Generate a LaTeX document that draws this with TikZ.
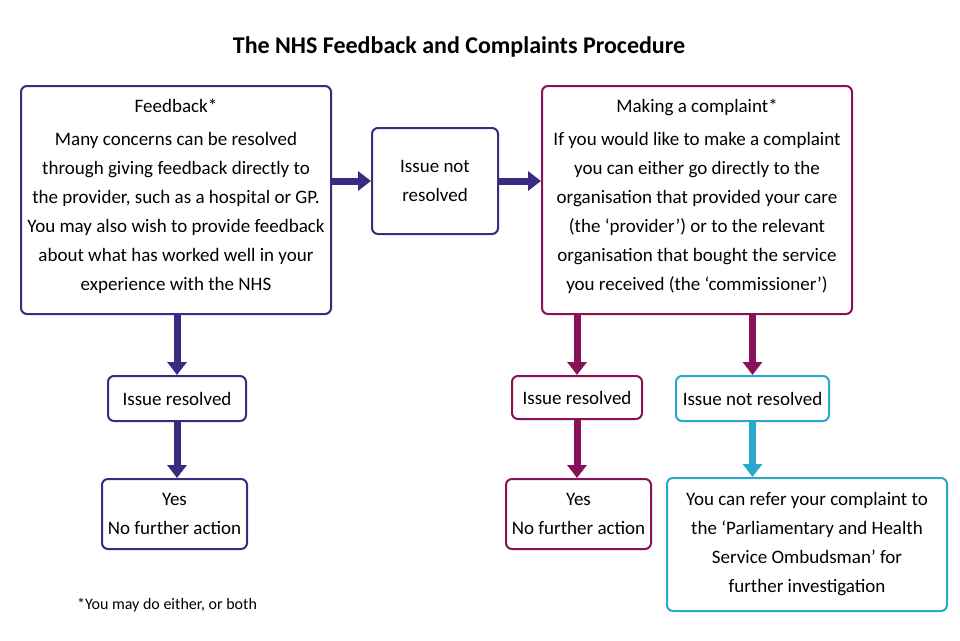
\documentclass[tikz,border=0pt]{standalone}
\usepackage{fontspec}
\setmainfont{Carlito}
\usetikzlibrary{arrows.meta,positioning}
\definecolor{nhspurple}{HTML}{3B2A80}
\definecolor{nhsmagenta}{HTML}{8A1057}
\definecolor{nhscyan}{HTML}{2AA7CD}
\tikzset{
  box/.style={draw=#1, line width=2pt, rounded corners=6pt, align=center, font=\fontsize{19}{29}\selectfont, inner sep=0pt, anchor=north west},
  arr/.style={draw=#1, line width=7pt, -{Triangle[width=19pt,length=13pt]}},
}
\begin{document}
\begin{tikzpicture}[x=1pt,y=-1pt]
\useasboundingbox (0,0) rectangle (960,640);
\node[font=\bfseries\fontsize{24}{28}\selectfont] (title) at (459,47) {The NHS Feedback and Complaints Procedure};
% left column
\node[box=nhspurple, minimum width=310pt, minimum height=228pt] (fb) at (20,85) {};
\node[align=center, font=\fontsize{19}{29}\selectfont, anchor=north] (fbt) at ([yshift=-10pt]fb.north) {Feedback*\\[4pt]Many concerns can be resolved\\through giving feedback directly to\\the provider, such as a hospital or GP.\\You may also wish to provide feedback\\about what has worked well in your\\experience with the NHS};
\node[box=nhspurple, minimum width=126pt, minimum height=106pt] (nr1) at (371,127) {Issue not\\resolved};
\node[box=nhspurple, minimum width=138pt, minimum height=45pt] (res1) at (107,375) {Issue resolved};
\node[box=nhspurple, minimum width=145pt, minimum height=70pt] (yes1) at (101,478) {Yes\\No further action};
% right column
\node[box=nhsmagenta, minimum width=310pt, minimum height=228pt] (cp) at (541,85) {};
\node[align=center, font=\fontsize{19}{29}\selectfont, anchor=north] (cpt) at ([yshift=-10pt]cp.north) {Making a complaint*\\[4pt]If you would like to make a complaint\\you can either go directly to the\\organisation that provided your care\\(the ‘provider’) or to the relevant\\organisation that bought the service\\you received (the ‘commissioner’)};
\node[box=nhsmagenta, minimum width=130pt, minimum height=43pt] (res2) at (511,375) {Issue resolved};
\node[box=nhsmagenta, minimum width=145pt, minimum height=70pt] (yes2) at (505,478) {Yes\\No further action};
\node[box=nhscyan, minimum width=153pt, minimum height=45pt] (nr2) at (675,375) {Issue not resolved};
\node[box=nhscyan, minimum width=280pt, minimum height=133pt] (ombud) at (666,477) {You can refer your complaint to\\the ‘Parliamentary and Health\\Service Ombudsman’ for\\further investigation};
\node[font=\fontsize{16}{20}\selectfont] (note) at (167,605) {*You may do either, or both};
% arrows
\draw[arr=nhspurple] (fb.east |- nr1.west) -- (nr1.west);
\draw[arr=nhspurple] (nr1.east) -- (cp.west |- nr1.east);
\draw[arr=nhspurple] (res1.north |- fb.south) -- (res1.north);
\draw[arr=nhspurple] (res1.south) -- (yes1.north -| res1.south);
\draw[arr=nhsmagenta] (res2.north |- cp.south) -- (res2.north);
\draw[arr=nhsmagenta] (res2.south) -- (yes2.north -| res2.south);
\draw[arr=nhsmagenta] (nr2.north |- cp.south) -- (nr2.north);
\draw[arr=nhscyan] (nr2.south) -- (ombud.north -| nr2.south);
\end{tikzpicture}
\end{document}
